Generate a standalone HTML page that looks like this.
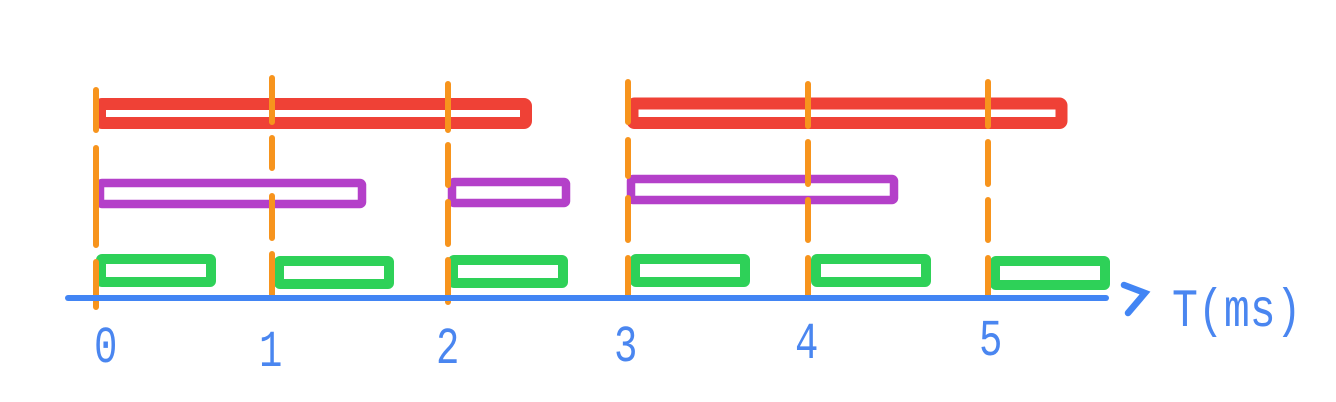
<!DOCTYPE html>
<html><head><meta charset="utf-8"><style>
html,body{margin:0;padding:0;background:#fff;}
svg{display:block}
text{font-family:"Liberation Mono","DejaVu Sans Mono",monospace;fill:#4a86f0;}
</style></head><body>
<svg width="1336" height="402" viewBox="0 0 1336 402" xmlns="http://www.w3.org/2000/svg">
<rect width="1336" height="402" fill="#fff"/>
<g fill="none" stroke="#ef4136" stroke-width="12" stroke-linejoin="round">
<rect x="100" y="104" width="426" height="19" rx="2"/>
<rect x="632.5" y="103.5" width="429" height="19.5" rx="2"/>
</g>
<g fill="none" stroke="#b440c9" stroke-width="8.5" stroke-linejoin="round">
<rect x="100" y="183" width="262" height="21" rx="2"/>
<rect x="452" y="182" width="114" height="21" rx="2"/>
<rect x="631" y="179" width="263" height="21" rx="2"/>
</g>
<g fill="none" stroke="#2ed158" stroke-width="10" stroke-linejoin="round">
<rect x="101" y="259" width="110" height="23" rx="1"/>
<rect x="279" y="261" width="110" height="23" rx="1"/>
<rect x="453" y="260" width="110" height="23" rx="1"/>
<rect x="635" y="259" width="110" height="23" rx="1"/>
<rect x="816" y="259" width="110" height="23" rx="1"/>
<rect x="995" y="261" width="110" height="24" rx="1"/>
</g>
<g stroke="#f7941d" stroke-width="6" stroke-linecap="round" fill="none">
<path d="M96 90V130M96 148V245M96 262V307"/>
<path d="M272 78V122M272 138V168M272 196V238M272 254V296"/>
<path d="M448 84V130M448 145V185M448 202V244M448 260V302"/>
<path d="M628 82V122M628 140V176M628 198V240M628 258V296"/>
<path d="M808 84V126M808 142V184M808 200V240M808 258V298"/>
<path d="M988 82V126M988 142V184M988 200V240M988 258V296"/>
</g>
<g stroke="#4285f4" stroke-width="6" stroke-linecap="round" fill="none">
<path d="M68 298H1106"/>
<path d="M1124 285L1145 293L1128 313" stroke-width="6.5"/>
</g>
<g font-size="52">
<text transform="translate(94,362) scale(0.75,1)">0</text>
<text transform="translate(259,366) scale(0.75,1)">1</text>
<text transform="translate(436,363) scale(0.75,1)">2</text>
<text transform="translate(614,361) scale(0.75,1)">3</text>
<text transform="translate(795,358) scale(0.75,1)">4</text>
<text transform="translate(979,355) scale(0.75,1)">5</text>
</g>
<text transform="translate(1172,326) scale(0.8,1)" font-size="54">T(ms)</text>
</svg>
</body></html>
